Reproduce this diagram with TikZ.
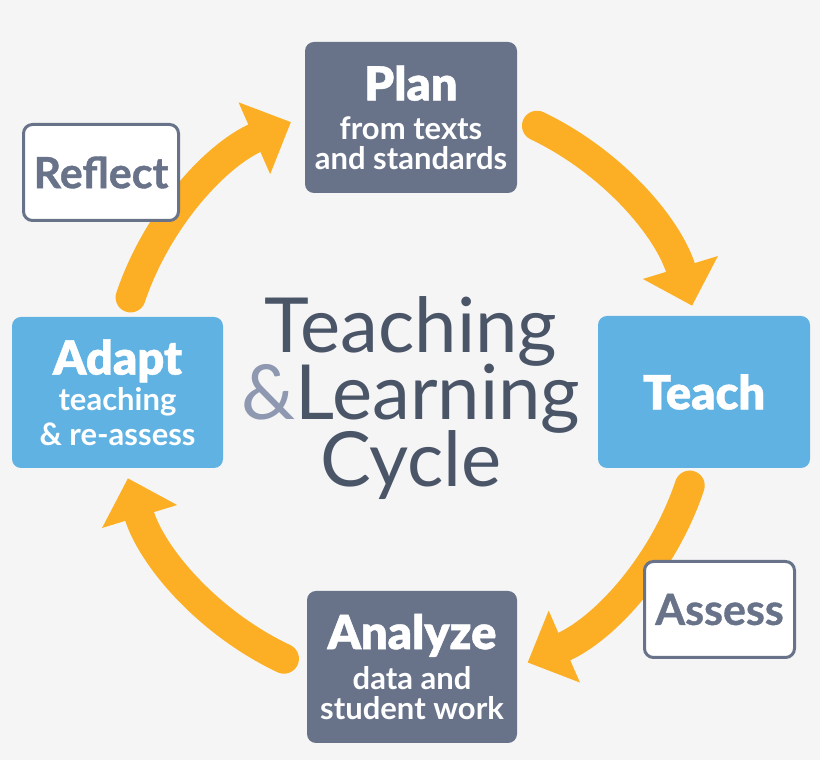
\documentclass[tikz,border=0pt]{standalone}
\usepackage{fontspec}
\setmainfont{Lato}
\newfontfamily\heavylato{Lato}[UprightFont={Lato Bold}, FakeBold=0.9]
\usetikzlibrary{arrows.meta,calc}
\definecolor{bgGray}{RGB}{245,245,245}
\definecolor{slateBox}{RGB}{104,115,138}
\definecolor{skyBox}{RGB}{96,178,226}
\definecolor{flowOrange}{RGB}{252,175,36}
\definecolor{titleInk}{RGB}{74,85,104}
\definecolor{ampInk}{RGB}{142,152,176}
\def\cyclearc[#1](#2)(#3:#4:#5){\draw[#1] ($(#2)+(#3:#5)$) arc (#3:#4:#5);}
\def\tightlines{\lineskiplimit=-60pt\relax}
\tikzset{
  flow/.style={line width=30pt, color=flowOrange, line cap=round,
    -{Triangle[length=40pt,width=76pt]}},
  stagebox/.style={rounded corners=9pt, inner sep=0pt, text=white, align=center,
    font=\bfseries\fontsize{31}{30}\selectfont},
  notebox/.style={draw=slateBox, line width=3pt, fill=white, rounded corners=9pt,
    text=slateBox, inner sep=0pt, font=\heavylato\fontsize{43}{46}\selectfont}
}
\newcommand{\headline}[1]{{\heavylato\fontsize{47}{50}\selectfont #1}}

\begin{document}
\begin{tikzpicture}[x=1pt,y=1pt]
			%%%%% START %%%%%
			
			\fill[bgGray] (0, 0) rectangle (820, 760);
			\useasboundingbox (0, 0) rectangle (820, 760);
			\coordinate (hub) at (410, 368);
			
			\cyclearc[flow](hub)(64.5:17:295pt)
			\cyclearc[flow](hub)(-18.5:-66.5:295pt)
			\cyclearc[flow](hub)(244.7:197:295pt)
			\cyclearc[flow](hub)(161.3:113.8:295pt)
			
			\node[stagebox, fill=slateBox, minimum width=212, minimum height=151] (plan) at (411, 642.5)
			  {\headline{Plan}\\[9pt]from texts\\and standards};
			\node[stagebox, fill=skyBox, minimum width=212, minimum height=152] (teach) at (704, 368)
			  {\headline{Teach}};
			\node[stagebox, fill=slateBox, minimum width=210, minimum height=152] (analyze) at (412, 93)
			  {\headline{Analyze}\\[9pt]data and\\student work};
			\node[stagebox, fill=skyBox, minimum width=211, minimum height=151] (adapt) at (117.5, 367.5)
			  {\headline{Adapt}\\[4pt]teaching\\[5pt]\& re-assess};
			
			\node[notebox, minimum width=155, minimum height=96] (reflect) at (101, 587.5) {Reflect};
			\node[notebox, minimum width=150, minimum height=96] (assess) at (719.5, 150.5) {Assess};
			
			\node[text=titleInk, align=center,
			  font=\fontsize{76}{67}\selectfont\tightlines] (cycle) at (411, 362)
			  {Teaching\\{\color{ampInk}\&}Learning\\Cycle};
			
			%%%%% END %%%%%
\end{tikzpicture}
\end{document}
